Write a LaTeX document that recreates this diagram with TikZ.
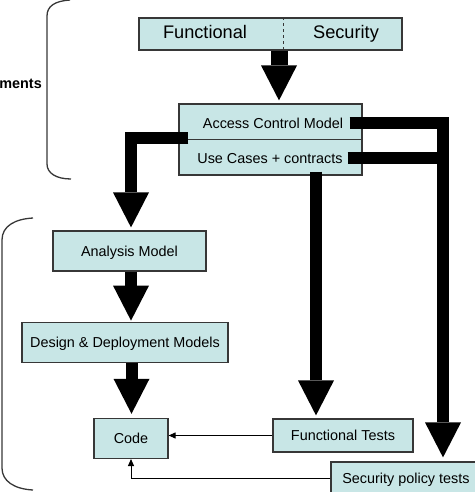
\documentclass[tikz,border=0pt]{standalone}
\usepackage{fontspec}
\setmainfont{Liberation Sans}
\usepackage{tikz}
\usepackage{xcolor}
\usetikzlibrary{positioning, arrows.meta}

\definecolor{boxfill}{RGB}{200,230,230}
\definecolor{boxline}{RGB}{55,55,55}

\begin{document}
\begin{tikzpicture}[x=1pt, y=-1pt,
    box/.style={rectangle, draw=boxline, fill=boxfill, line width=1.2pt,
      inner sep=0pt, text height=10.3pt, text depth=0pt,
      font=\fontsize{14.4}{17}\selectfont},
    txt/.style={inner sep=0pt, text height=10.3pt, text depth=0pt,
      font=\fontsize{14.4}{17}\selectfont},
    bigtxt/.style={inner sep=0pt, anchor=base,
      font=\fontsize{18.2}{21}\selectfont},
    bigarrow/.style={line width=12pt,
      -{Triangle[width=36pt, length=35pt, line width=0pt]}},
    bar/.style={line width=12pt},
    thinarrow/.style={line width=1pt, -{Triangle[width=6pt, length=7pt]}},
    brace/.style={line width=1.3pt, draw=boxline}
    ]

    \useasboundingbox (0,0) rectangle (474,492);

    % Exigences
    \node[box, minimum width=263pt, minimum height=32pt] (Requirements)
    at (270.5,34) {};
    \coordinate (split) at (283,0);
    \draw[boxline, line width=1pt, dashed] (Requirements.north -| split)
    -- (Requirements.south -| split);
    \node[bigtxt] (functional) at (205,38.5) {Functional};
    \node[bigtxt] (security) at (346,38.5) {Security};

    % Modele de controle d'acces
    \node[box, minimum width=183pt, minimum height=71pt] (AccessControl)
    at (270.5,139.5) {};
    \draw[boxline, line width=1.2pt] (AccessControl.west)
    -- (AccessControl.east);
    \node[txt] (accessControl) at (273,123.5) {Access Control Model};
    \node[txt] (useCases) at (270,158.5) {Use Cases + contracts};

    % Modeles
    \node[box, minimum width=153pt, minimum height=40pt] (AnalysisModel)
    at (129.5,251) {Analysis Model};
    \node[box, minimum width=206pt, minimum height=40pt,
      below=50pt of AnalysisModel, xshift=-4.5pt] (DesignModels)
    {Design \& Deployment Models};
    \node[box, minimum width=74pt, minimum height=40pt,
      below=55pt of DesignModels, xshift=6pt] (Code) {Code};

    % Tests
    \node[box, minimum width=140pt, minimum height=33pt] (FunctionalTests)
    at (343,435.5) {Functional Tests};
    \node[box, minimum width=150pt, minimum height=33pt] (SecurityTests)
    at (406,478.5) {Security policy tests};
    \coordinate (secCol) at ([xshift=37pt]SecurityTests.north);
    \coordinate (useStart) at ([xshift=-15pt, yshift=-18pt]AccessControl.east);

    % Texte coupe a gauche
    \node[inner sep=0pt, anchor=east, text height=10.3pt, text depth=0pt,
      font=\fontsize{14.4}{17}\selectfont\bfseries] (ments) at (42,83)
    {ments};

    % Accolades
    \draw[brace] (70,0) .. controls (55,1) and (47,6) .. (47,16)
    -- (47,164) .. controls (47,173) and (56,179) .. (71,179);
    \draw[brace] (33,218) .. controls (15,219) and (2,226) .. (2,240)
    -- (2,468) .. controls (2,481) and (14,489) .. (33,490);

    % Fleches epaisses
    \draw[bigarrow, line width=17pt] ([xshift=8.5pt]Requirements.south)
    -- ([xshift=8.5pt, yshift=3pt]AccessControl.north);
    \draw[bigarrow] ([xshift=10pt, yshift=1.5pt]AccessControl.west)
    -| ([xshift=1.5pt, yshift=3pt]AnalysisModel.north);
    \draw[bigarrow] ([xshift=-13pt, yshift=16.5pt]AccessControl.east)
    -| ([yshift=4pt]SecurityTests.north -| secCol);
    \draw[bar] (useStart) -- (useStart -| secCol);
    \draw[bigarrow] ([xshift=45.5pt, yshift=4pt]AccessControl.south)
    -- ([xshift=-27pt, yshift=3pt]FunctionalTests.north);
    \draw[bigarrow] ([xshift=1.5pt]AnalysisModel.south)
    -- ([xshift=1.5pt, yshift=1pt]AnalysisModel.south |- DesignModels.north);
    \draw[bigarrow] ([xshift=6.5pt]DesignModels.south)
    -- ([xshift=6.5pt, yshift=4pt]DesignModels.south |- Code.north);

    % Fleches fines
    \draw[thinarrow] (FunctionalTests.west) -- (FunctionalTests.west -| Code.east);
    \draw[thinarrow] (SecurityTests.west) -| (Code.south);

\end{tikzpicture}
\end{document}
